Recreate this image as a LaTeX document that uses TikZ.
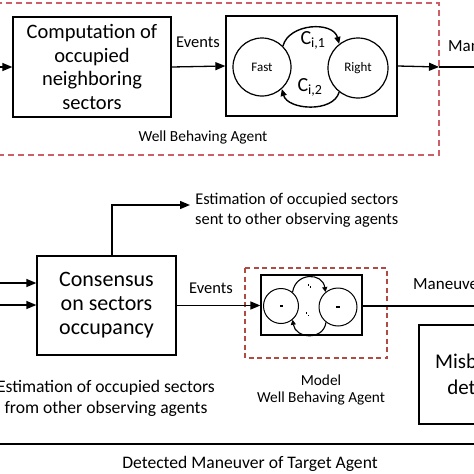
\documentclass[tikz,border=0pt]{standalone}
\usepackage{fontspec}
\setmainfont{Carlito}
\usetikzlibrary{arrows.meta}
\definecolor{dashred}{RGB}{205,95,105}
\definecolor{dashbrown}{RGB}{175,75,65}
\tikzset{
  box/.style={draw, line width=1.3pt, fill=white, align=center, inner sep=0pt},
  conn/.style={line width=1.3pt, -{Triangle[length=10pt,width=8pt]}},
  smallconn/.style={line width=1.4pt, -{Triangle[length=7pt,width=6pt]}},
  tinyconn/.style={line width=1.1pt, -{Triangle[length=5pt,width=5pt]}},
  plain/.style={line width=1.3pt},
  state/.style={draw, circle, line width=1.2pt, fill=white, inner sep=0pt},
  grp/.style={draw=dashred, line width=1.6pt, dash pattern=on 6pt off 4pt},
  grpb/.style={draw=dashbrown, line width=1.2pt, dash pattern=on 5pt off 3.5pt},
  lbl/.style={inner sep=0pt, align=center},
}
\begin{document}
\begin{tikzpicture}[x=1pt,y=-1pt]
\useasboundingbox (0,0) rectangle (474,474);
% ---------- upper part ----------
\draw[grp] (-20,3) rectangle (439,155);
\node[box, minimum width=158pt, minimum height=100pt,
      font=\fontsize{20.5}{23.5}\selectfont] (comp) at (92,67)
      {Computation of\\occupied\\neighboring\\sectors};
\node[box, minimum width=171pt, minimum height=100pt] (fsm) at (311.5,66) {};
\node[state, minimum size=58pt, font=\fontsize{13}{15}\selectfont] (fast) at (262,67) {Fast};
\node[state, minimum size=60pt, font=\fontsize{13}{15}\selectfont] (right) at (358,68) {Right};
\draw[smallconn] (right.232) .. controls +(-6,21) and +(6,21) .. (fast.312);
\draw[smallconn] (fast.45) .. controls +(6,-23) and +(-6,-23) .. (right.128);
\node[lbl, font=\fontsize{20}{20}\selectfont] (c1) at (313,40) {C\textsubscript{i,1}};
\node[lbl, font=\fontsize{20}{20}\selectfont] (c2) at (310,87) {C\textsubscript{i,2}};
\coordinate (in1) at (-5,67);
\draw[conn] (in1) -- (comp.west);
\draw[conn] (comp.east) -- (fsm.west);
\node[lbl, font=\fontsize{16.5}{18}\selectfont] (ev1) at (198,42) {Events};
\coordinate (bd) at (439,67);
\coordinate (out1) at (480,67);
\draw[conn] (fsm.east) -- (bd);
\draw[plain] (bd) -- (out1);
\node[lbl, anchor=west, font=\fontsize{17}{18}\selectfont] (man1) at (448,46) {Maneuver};
\node[lbl, font=\fontsize{15.4}{17}\selectfont] (wba) at (203,137) {Well Behaving Agent};
% ---------- lower part ----------
\node[box, minimum width=139pt, minimum height=99pt,
      font=\fontsize{22}{24}\selectfont] (cons) at (106.5,305.5)
      {Consensus\\on sectors\\occupancy};
\coordinate (in2) at (-5,283);
\coordinate (in3) at (-5,305);
\draw[conn] (in2) -- (cons.west |- in2);
\draw[conn] (in3) -- (cons.west |- in3);
\coordinate (up) at (112,205);
\coordinate (sendend) at (190,205);
\draw[conn] (cons.north -| up) -- (up) -- (sendend);
\node[lbl, anchor=west, font=\fontsize{16.4}{20}\selectfont] (sent) at (195,210)
      {Estimation of occupied sectors\\sent to other observing agents};
\node[lbl, font=\fontsize{17.6}{21}\selectfont] (from) at (106,398.5)
      {Estimation of occupied sectors\\from other observing agents};
% mini model
\draw[grpb] (245,268) rectangle (387,358);
\node[box, line width=1.2pt, minimum width=101pt, minimum height=60pt] (mini) at (311.5,305) {};
\node[state, minimum size=35pt, line width=1pt] (mfast) at (281,306) {};
\node[state, minimum size=38pt, line width=1pt] (mright) at (338,307) {};
\draw[tinyconn] (mfast.50) .. controls +(3,-20) and +(-3,-20) .. (mright.130);
\draw[tinyconn] (mright.232) .. controls +(-3,19) and +(3,19) .. (mfast.310);
\fill (279.5,305) rectangle (282.5,306.5);
\fill (336,306) rectangle (340,307.5);
\fill (308,284) rectangle (309,285.5);
\fill (310,286) rectangle (311,287.5);
\fill (306,312) rectangle (307,313.5);
\fill (308,314.5) rectangle (309,316);
\draw[conn] (cons.east) -- (mini.west |- cons.east);
\node[lbl, font=\fontsize{16.5}{18}\selectfont] (ev2) at (211,288) {Events};
\node[lbl, font=\fontsize{15.3}{17.5}\selectfont] (model) at (321,390) {Model\\Well Behaving Agent};
\coordinate (out2) at (480,306);
\draw[plain] (mini.east |- out2) -- (out2);
\node[lbl, anchor=west, font=\fontsize{17}{18}\selectfont] (man2) at (413,284) {Maneuver};
\node[box, minimum width=138pt, minimum height=99pt,
      font=\fontsize{21}{26}\selectfont] (misb) at (488,374.5)
      {Misbehavior\\detection};
% bottom
\coordinate (sepl) at (-5,444);
\coordinate (sepr) at (480,444);
\draw[plain] (sepl) -- (sepr);
\node[lbl, font=\fontsize{17.6}{20}\selectfont] (det) at (250,464) {Detected Maneuver of Target Agent};
\end{tikzpicture}
\end{document}
